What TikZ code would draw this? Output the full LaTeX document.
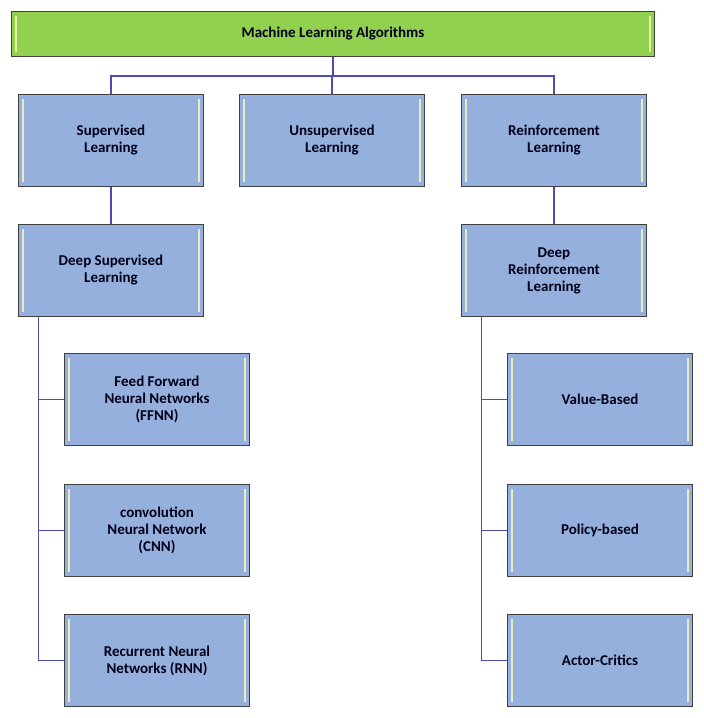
\documentclass[tikz,border=0pt]{standalone}
\usepackage{fontspec}
\setmainfont{Carlito}
\begin{document}
\begin{tikzpicture}[x=1pt,y=-1pt,
 box/.style={draw=black!75,line width=1pt,fill=#1,minimum width=185pt,minimum height=92pt,align=center,font=\bfseries\fontsize{15}{17}\selectfont,text=black!90!blue,anchor=north west,inner sep=2pt},
 box/.default={blue!30!cyan!20!gray!60},
 ln/.style={draw=blue!40!gray,line width=1.2pt}]
\useasboundingbox (0,0) rectangle (704,718);
\definecolor{bl}{HTML}{95B0DC}
\definecolor{gr}{HTML}{92D050}
\node[box=gr,minimum width=643pt,minimum height=45pt] (ml) at (11,11) {Machine Learning Algorithms};
\node[box=bl] (sup) at (18,94) {Supervised\\Learning};
\node[box=bl] (uns) at (239,94) {Unsupervised\\Learning};
\node[box=bl] (rei) at (461,94) {Reinforcement\\Learning};
\node[box=bl] (dsl) at (18,224) {Deep Supervised\\Learning};
\node[box=bl] (drl) at (461,224) {Deep\\Reinforcement\\Learning};
\node[box=bl] (ffnn) at (64,353) {Feed Forward\\Neural Networks\\(FFNN)};
\node[box=bl] (cnn) at (64,484) {convolution\\Neural Network\\(CNN)};
\node[box=bl] (rnn) at (64,614) {Recurrent Neural\\Networks (RNN)};
\node[box=bl] (val) at (507,353) {Value-Based};
\node[box=bl] (pol) at (507,484) {Policy-based};
\node[box=bl] (act) at (507,614) {Actor-Critics};
\foreach \n in {ml,sup,uns,rei,dsl,drl,ffnn,cnn,rnn,val,pol,act}{
 \draw[white!70!yellow,line width=2pt,opacity=.8] ([shift={(5,5)}]\n.north west) -- ([shift={(5,-5)}]\n.south west);
 \draw[white!70!yellow,line width=2pt,opacity=.8] ([shift={(-5,5)}]\n.north east) -- ([shift={(-5,-5)}]\n.south east);
}
\coordinate (j) at (333,76);
\draw[ln] (ml.south) -- (j);
\draw[ln] (sup.north) |- (j) -| (rei.north);
\draw[ln] (uns.north) -- (uns.north |- j);
\draw[ln] (sup) -- (dsl);
\draw[ln] (rei) -- (drl);
\coordinate (ls) at ([xshift=-72.5pt]dsl.south);
\draw[ln] (ls) |- (rnn.west);
\draw[ln] (ls |- ffnn.west) -- (ffnn.west);
\draw[ln] (ls |- cnn.west) -- (cnn.west);
\coordinate (rs) at ([xshift=-72.5pt]drl.south);
\draw[ln] (rs) |- (act.west);
\draw[ln] (rs |- val.west) -- (val.west);
\draw[ln] (rs |- pol.west) -- (pol.west);
\end{tikzpicture}
\end{document}
